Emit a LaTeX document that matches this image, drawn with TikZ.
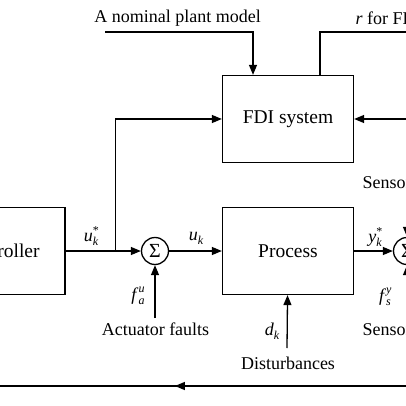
\documentclass[tikz,border=0pt]{standalone}
\usepackage{fontspec}
\setmainfont{Liberation Serif}
\usetikzlibrary{arrows.meta,decorations.markings}

% symbol with sub- and superscript, set in text italic
\newcommand{\symlbl}[3]{\textit{#1}\rlap{\raisebox{7.5pt}{\fontsize{12}{12}\selectfont #3}}\raisebox{-4pt}{\fontsize{12}{12}\selectfont\itshape #2}}

\begin{document}
\begin{tikzpicture}[x=1pt, y=-1pt, line width=1.3pt,
    block/.style={draw, minimum width=131pt, minimum height=87pt, font=\fontsize{19.5}{22}\selectfont},
    summer/.style={draw, circle, minimum size=27pt, inner sep=0pt, font=\fontsize{20}{22}\selectfont},
    lbl/.style={font=\fontsize{18}{20}\selectfont, inner sep=1pt},
    sig/.style={-{Triangle[length=10pt,width=8pt]}}]
  \useasboundingbox (0,0) rectangle (406,406);
  \clip (0,0) rectangle (406,406);

  \node[block] (fdi)  at (288,119) {FDI system};
  \node[block] (proc) at (288,251) {Process};
  \node[block] (ctrl) at (-0.5,251) {Controller};
  \node[summer] (s1) at (155,251) {Σ};
  \node[summer] (s2) at (407,251) {Σ};

  \coordinate (nom)   at (105,32);
  \coordinate (rout)  at (420,32);
  \coordinate (fdiin) at (420,119);
  \coordinate (br)    at (115.7,251);
  \coordinate (fa)    at (155,318);
  \coordinate (dk)    at (287,348);
  \coordinate (fs)    at (407,318);
  \coordinate (noise) at (407,197);
  \coordinate (fbr)   at (420,386);
  \coordinate (fbl)   at (-10,386);

  % signal paths
  \draw[sig] (nom) -| ([xshift=-35pt]fdi.north);
  \draw ([xshift=32pt]fdi.north) |- (rout);
  \draw[sig] (fdiin) -- (fdi.east);
  \draw[sig] (ctrl.east) -- (s1);
  \draw[sig] (br) |- (fdi.west);
  \draw[sig] (s1) -- (proc);
  \draw[sig] (proc) -- (s2);
  \draw[sig] (fa) -- (s1);
  \draw[sig] (dk) -- (proc);
  \draw[sig] (fs) -- (s2);
  \draw[sig] (noise) -- (s2);
  \draw[postaction={decorate}, decoration={markings,
      mark=at position 0.57 with {\arrow{Triangle[length=10pt,width=8pt]}}}] (fbr) -- (fbl);

  % labels
  \node[lbl] (nomtxt) at (177.5,18) {A nominal plant model};
  \node[lbl, anchor=west] (rtxt) at (354,18) {\textit{r} for FDI};
  \node[lbl, anchor=west] (noisetxt) at (361,183) {Sensor noise};
  \node[lbl] (actxt) at (155.5,329) {Actuator faults};
  \node[lbl] (disttxt) at (288,363) {Disturbances};
  \node[lbl, anchor=west] (senstxt) at (361,329) {Sensor faults};
  \node[lbl] (ustar) at (91,236) {\symlbl{u}{k}{*}};
  \node[lbl] (uk) at (196,238) {\symlbl{u}{k}{}};
  \node[lbl] (ystar) at (375,237) {\symlbl{y}{k}{*}};
  \node[lbl] (fau) at (138,296) {\symlbl{f}{a}{\itshape u}};
  \node[lbl] (dklbl) at (272,331) {\symlbl{d}{k}{}};
  \node[lbl] (fsy) at (385,297) {\symlbl{f}{s}{\itshape y}};
\end{tikzpicture}
\end{document}
